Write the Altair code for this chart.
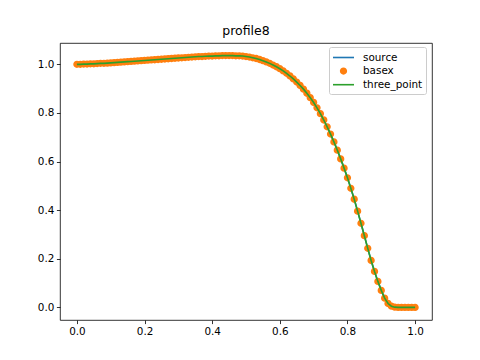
import altair as alt
import pandas as pd

x_vals = [0.00, 0.01, 0.02, 0.03, 0.04, 0.05, 0.06, 0.07, 0.08, 0.09,
          0.10, 0.11, 0.12, 0.13, 0.14, 0.15, 0.16, 0.17, 0.18, 0.19,
          0.20, 0.21, 0.22, 0.23, 0.24, 0.25, 0.26, 0.27, 0.28, 0.29,
          0.30, 0.31, 0.32, 0.33, 0.34, 0.35, 0.36, 0.37, 0.38, 0.39,
          0.40, 0.41, 0.42, 0.43, 0.44, 0.45, 0.46, 0.47, 0.48, 0.49,
          0.50, 0.51, 0.52, 0.53, 0.54, 0.55, 0.56, 0.57, 0.58, 0.59,
          0.60, 0.61, 0.62, 0.63, 0.64, 0.65, 0.66, 0.67, 0.68, 0.69,
          0.70, 0.71, 0.72, 0.73, 0.74, 0.75, 0.76, 0.77, 0.78, 0.79,
          0.80, 0.81, 0.82, 0.83, 0.84, 0.85, 0.86, 0.87, 0.88, 0.89,
          0.90, 0.91, 0.92, 0.93, 0.94, 0.95, 0.96, 0.97, 0.98, 0.99, 1.00]

source = [1.000, 1.000, 1.001, 1.001, 1.002, 1.002, 1.003, 1.004, 1.004, 1.005,
          1.006, 1.007, 1.008, 1.009, 1.010, 1.011, 1.012, 1.013, 1.014, 1.015,
          1.016, 1.017, 1.018, 1.019, 1.020, 1.021, 1.022, 1.023, 1.024, 1.025,
          1.026, 1.027, 1.028, 1.029, 1.030, 1.031, 1.032, 1.032, 1.033, 1.034,
          1.034, 1.035, 1.035, 1.036, 1.036, 1.036, 1.036, 1.035, 1.035, 1.034,
          1.032, 1.030, 1.027, 1.024, 1.020, 1.015, 1.010, 1.004, 0.997, 0.990,
          0.982, 0.973, 0.963, 0.952, 0.940, 0.927, 0.913, 0.898, 0.881, 0.863,
          0.843, 0.821, 0.797, 0.771, 0.743, 0.713, 0.681, 0.647, 0.611, 0.573,
          0.533, 0.490, 0.445, 0.396, 0.346, 0.295, 0.243, 0.193, 0.148, 0.107,
          0.070, 0.038, 0.016, 0.005, 0.001, 0.000, 0.000, 0.000, 0.000, 0.000, 0.000]
basex = list(source)
three_point = list(source)

series_names = ["source", "basex", "three_point"]
series_colors = ["#1f77b4", "#ff7f0e", "#2ca02c"]
y_ticks = [0.0, 0.2, 0.4, 0.6, 0.8, 1.0]
x_ticks = [0.0, 0.2, 0.4, 0.6, 0.8, 1.0]

rows = []
for name, ys in zip(series_names, [source, basex, three_point]):
    for xv, yv in zip(x_vals, ys):
        rows.append({"x": xv, "y": yv, "series": name})
df = pd.DataFrame(rows)

FONT = "DejaVu Sans"
LINE_PATH = "M-1.4,-0.107L1.4,-0.107L1.4,0.107L-1.4,0.107Z"
DOT_PATH = "M-0.487,0A0.487,0.487 0 1,0 0.487,0A0.487,0.487 0 1,0 -0.487,0Z"

xenc = alt.X("x:Q", scale=alt.Scale(domain=[-0.05, 1.05], nice=False, zero=False),
             axis=alt.Axis(values=x_ticks, format=".1f", title=None))
yenc = alt.Y("y:Q", scale=alt.Scale(domain=[-0.0518, 1.0878], nice=False, zero=False),
             axis=alt.Axis(values=y_ticks, format=".1f", title=None))

legend = alt.Legend(
    title=None, orient="none", legendX=269, legendY=4,
    symbolSize=225, symbolStrokeWidth=0, symbolOffset=4, labelOffset=12, rowPadding=0.6,
    padding=3, strokeColor="#cccccc", fillColor="rgba(255,255,255,0.8)",
    cornerRadius=2, labelFontSize=10.4, labelFont=FONT, labelColor="#000000",
    symbolOpacity=1,
)
color = alt.Color("series:N", scale=alt.Scale(domain=series_names, range=series_colors),
                  legend=legend)
shape = alt.Shape("series:N", scale=alt.Scale(domain=series_names,
                                              range=[LINE_PATH, DOT_PATH, LINE_PATH]),
                  legend=legend)

base = alt.Chart(df)
l_source = base.transform_filter(alt.datum.series == "source").mark_line(strokeWidth=1.6).encode(
    x=xenc, y=yenc, color=color)
l_basex = base.transform_filter(alt.datum.series == "basex").mark_point(
    filled=True, size=225, opacity=1, strokeWidth=0).encode(
    x=xenc, y=yenc, color=color, shape=shape)
l_three = base.transform_filter(alt.datum.series == "three_point").mark_line(strokeWidth=1.6).encode(
    x=xenc, y=yenc, color=color)

chart = alt.layer(l_source, l_basex, l_three).properties(
    width=372, height=277,
    title=alt.Title("profile8", fontSize=12.5, font=FONT, fontWeight="normal", color="#000000", offset=6),
    autosize=alt.AutoSizeParams(type="none"),
    padding={"left": 52, "top": 35, "right": 40, "bottom": 32},
).configure_view(
    stroke="#000000", strokeWidth=0.8
).configure_axis(
    grid=False, domain=False, tickColor="#000000", tickSize=3.6, tickWidth=0.8,
    labelFontSize=10.4, labelFont=FONT, labelColor="#000000", labelPadding=2.5,
)

chart.save("out.html", embed_options={"renderer": "svg", "actions": False})
